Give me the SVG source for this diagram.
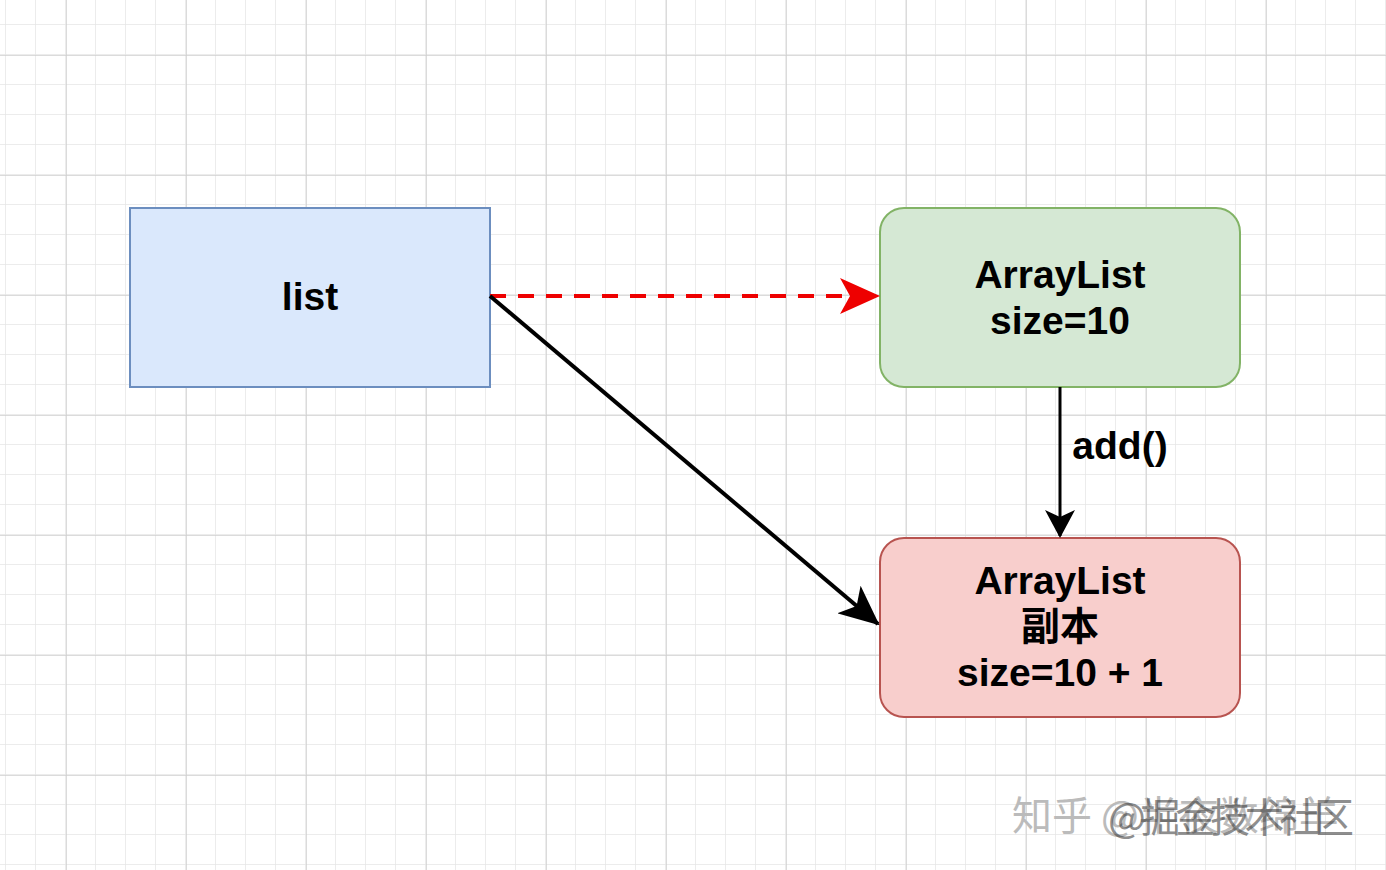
<svg xmlns="http://www.w3.org/2000/svg" width="1386" height="870" viewBox="0 0 1386 870">
<defs>
<style>
.t{font-family:"Liberation Sans","Noto Sans CJK SC",sans-serif;font-weight:bold;font-size:39px;fill:#000;text-anchor:middle}
.wm{font-family:"Noto Sans CJK SC",sans-serif;font-size:40px;text-anchor:start}
</style>
<pattern id="g" width="30" height="30" patternUnits="userSpaceOnUse" x="6" y="-5">
<path d="M30 0V30M0 30H30" fill="none" stroke="#e6e6e6" stroke-width="1.5"/>
</pattern>
<pattern id="G" width="120" height="120" patternUnits="userSpaceOnUse" x="66" y="55">
<path d="M0 0V120M0 0H120" fill="none" stroke="#d0d0d0" stroke-width="1.5"/>
</pattern>
<marker id="ab2" markerWidth="40" markerHeight="36" refX="38" refY="18" orient="auto" markerUnits="userSpaceOnUse"><path d="M0 0L40 18L0 36L10 18Z" fill="#000"/></marker>
<marker id="ar" markerWidth="40" markerHeight="36" refX="38" refY="18" orient="auto" markerUnits="userSpaceOnUse"><path d="M0 0L40 18L0 36L10 18Z" fill="#e00"/></marker>
<marker id="ab3" markerWidth="28" markerHeight="30" refX="26" refY="15" orient="auto" markerUnits="userSpaceOnUse"><path d="M0 0L28 15L0 30L7 15Z" fill="#000"/></marker>
</defs>
<rect width="1386" height="870" fill="#fff"/>
<rect width="1386" height="870" fill="url(#g)"/>
<rect width="1386" height="870" fill="url(#G)"/>
<g id="list"><rect x="130" y="208" width="360" height="179" fill="#dae8fc" stroke="#6c8ebf" stroke-width="2"/><text class="t" x="310" y="310">list</text></g>
<g id="arraylist"><rect x="880" y="208" width="360" height="179" rx="24" fill="#d5e8d4" stroke="#82b366" stroke-width="2"/><text class="t" x="1060" y="288">ArrayList</text><text class="t" x="1060" y="334">size=10</text></g>
<g id="copy"><rect x="880" y="538" width="360" height="179" rx="24" fill="#f8cecc" stroke="#b85450" stroke-width="2"/><text class="t" x="1060" y="594">ArrayList</text><text class="t" x="1060" y="640">副本</text><text class="t" x="1060" y="686">size=10 + 1</text></g>
<g id="connectors">
<line x1="490" y1="296" x2="878" y2="296" stroke="#e00" stroke-width="4" stroke-dasharray="16 12" marker-end="url(#ar)"/>
<line x1="490" y1="296" x2="878" y2="624" stroke="#000" stroke-width="4" marker-end="url(#ab2)"/>
<line x1="1060" y1="387" x2="1060" y2="536" stroke="#000" stroke-width="3" marker-end="url(#ab3)"/>
<text class="t" x="1120" y="459">add()</text>
</g>
<text class="wm" x="1012" y="830" fill="#bbb">知乎 @半夜数绵羊</text>
<text class="wm" x="1108" y="832" fill="#333" font-size="36" opacity="0.55" textLength="246">@掘金技术社区</text>
</svg>
